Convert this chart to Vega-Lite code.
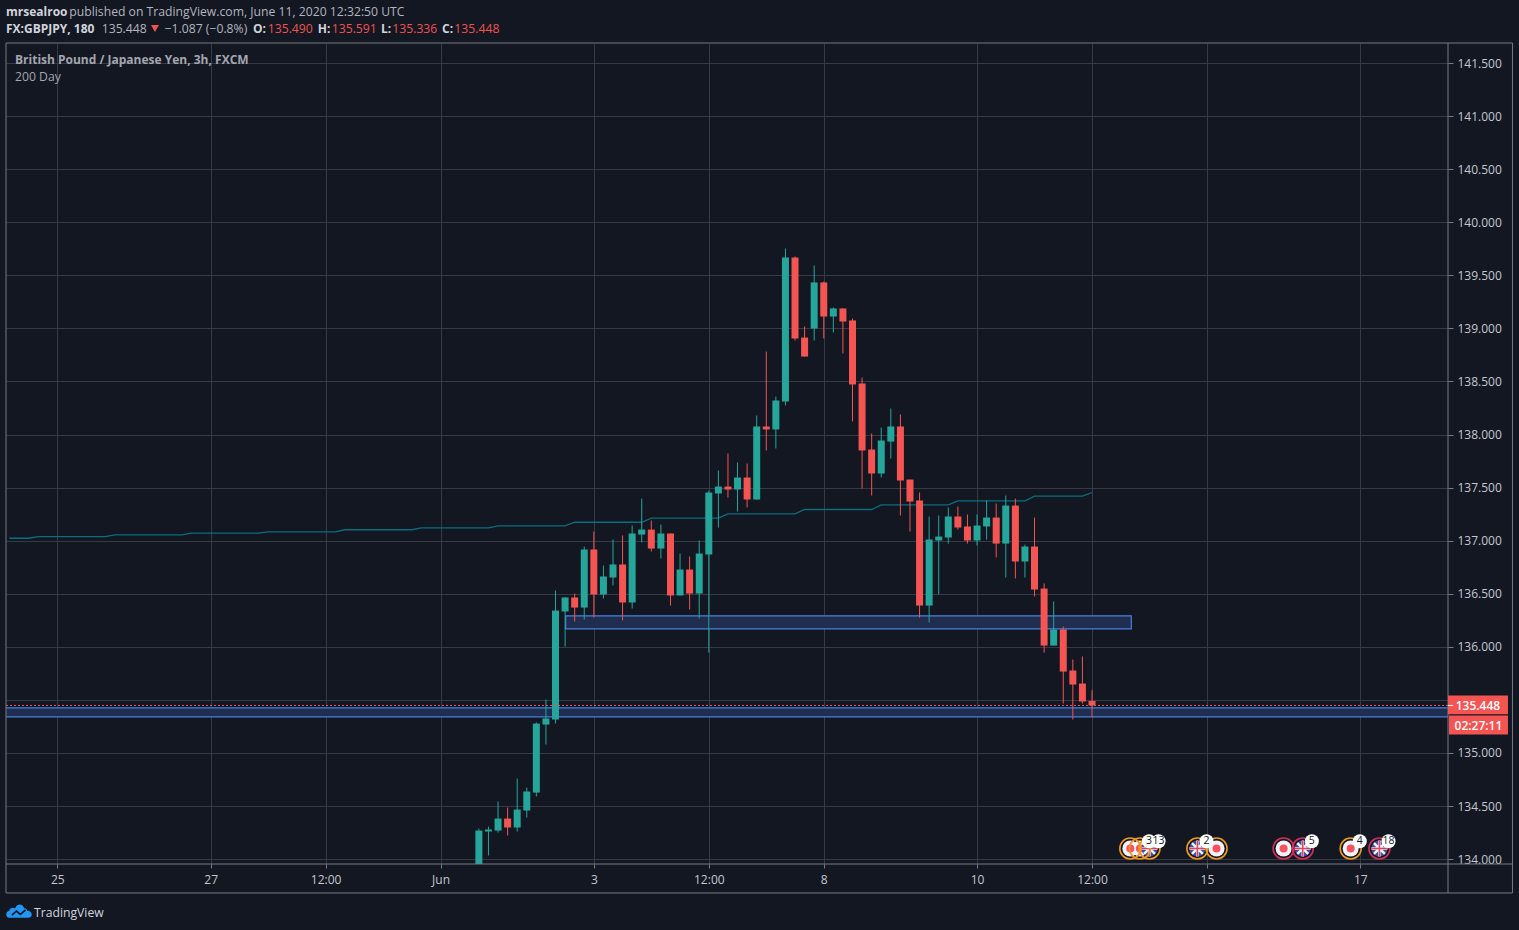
{
  "$schema": "https://vega.github.io/schema/vega-lite/v6.json",
  "width": 1442,
  "height": 821,
  "autosize": {"type": "none"},
  "padding": {"left": 6, "top": 43, "right": 71, "bottom": 66},
  "background": "#131722",
  "config": {
    "view": {"stroke": null},
    "font": "Open Sans",
    "axis": {"labelFont": "Open Sans", "labelFontSize": 12, "labelColor": "#c4c7ce", "gridColor": "#363a45", "gridWidth": 1, "tickColor": "#787b86", "domain": false}
  },
  "datasets": {
    "candles": [
      {"bar":-64,"open":133.7,"high":134.288,"low":133.6,"close":134.269,"dir":"up"},
      {"bar":-63,"open":134.26,"high":134.307,"low":134.034,"close":134.279,"dir":"up"},
      {"bar":-62,"open":134.269,"high":134.543,"low":134.25,"close":134.382,"dir":"up"},
      {"bar":-61,"open":134.382,"high":134.486,"low":134.222,"close":134.298,"dir":"down"},
      {"bar":-60,"open":134.298,"high":134.759,"low":134.26,"close":134.467,"dir":"up"},
      {"bar":-59,"open":134.458,"high":134.674,"low":134.392,"close":134.637,"dir":"up"},
      {"bar":-58,"open":134.627,"high":135.287,"low":134.59,"close":135.277,"dir":"up"},
      {"bar":-57,"open":135.268,"high":135.504,"low":135.08,"close":135.325,"dir":"up"},
      {"bar":-56,"open":135.315,"high":136.531,"low":135.277,"close":136.342,"dir":"up"},
      {"bar":-55,"open":136.333,"high":136.465,"low":136.003,"close":136.465,"dir":"up"},
      {"bar":-54,"open":136.465,"high":136.502,"low":136.239,"close":136.37,"dir":"down"},
      {"bar":-53,"open":136.37,"high":136.945,"low":136.257,"close":136.917,"dir":"up"},
      {"bar":-52,"open":136.917,"high":137.086,"low":136.276,"close":136.493,"dir":"down"},
      {"bar":-51,"open":136.493,"high":136.766,"low":136.455,"close":136.663,"dir":"up"},
      {"bar":-50,"open":136.653,"high":137.011,"low":136.578,"close":136.776,"dir":"up"},
      {"bar":-49,"open":136.776,"high":137.049,"low":136.248,"close":136.418,"dir":"down"},
      {"bar":-48,"open":136.418,"high":137.143,"low":136.361,"close":137.068,"dir":"up"},
      {"bar":-47,"open":137.058,"high":137.397,"low":136.983,"close":137.105,"dir":"up"},
      {"bar":-46,"open":137.105,"high":137.19,"low":136.898,"close":136.926,"dir":"down"},
      {"bar":-45,"open":136.926,"high":137.152,"low":136.832,"close":137.068,"dir":"up"},
      {"bar":-44,"open":137.068,"high":137.068,"low":136.389,"close":136.484,"dir":"down"},
      {"bar":-43,"open":136.484,"high":136.879,"low":136.484,"close":136.728,"dir":"up"},
      {"bar":-42,"open":136.728,"high":136.851,"low":136.352,"close":136.502,"dir":"down"},
      {"bar":-41,"open":136.502,"high":137.002,"low":136.267,"close":136.879,"dir":"up"},
      {"bar":-40,"open":136.87,"high":137.473,"low":135.946,"close":137.454,"dir":"up"},
      {"bar":-39,"open":137.445,"high":137.661,"low":137.124,"close":137.51,"dir":"up"},
      {"bar":-38,"open":137.51,"high":137.821,"low":137.407,"close":137.482,"dir":"down"},
      {"bar":-37,"open":137.482,"high":137.737,"low":137.275,"close":137.595,"dir":"up"},
      {"bar":-36,"open":137.595,"high":137.727,"low":137.313,"close":137.388,"dir":"down"},
      {"bar":-35,"open":137.388,"high":138.179,"low":137.388,"close":138.076,"dir":"up"},
      {"bar":-34,"open":138.076,"high":138.782,"low":137.85,"close":138.048,"dir":"down"},
      {"bar":-33,"open":138.048,"high":138.358,"low":137.869,"close":138.321,"dir":"up"},
      {"bar":-32,"open":138.311,"high":139.753,"low":138.274,"close":139.668,"dir":"up"},
      {"bar":-31,"open":139.668,"high":139.678,"low":138.886,"close":138.905,"dir":"down"},
      {"bar":-30,"open":138.914,"high":139.018,"low":138.735,"close":138.735,"dir":"down"},
      {"bar":-29,"open":138.999,"high":139.593,"low":138.886,"close":139.433,"dir":"up"},
      {"bar":-28,"open":139.433,"high":139.442,"low":138.905,"close":139.112,"dir":"down"},
      {"bar":-27,"open":139.112,"high":139.197,"low":138.961,"close":139.188,"dir":"up"},
      {"bar":-26,"open":139.188,"high":139.188,"low":138.764,"close":139.065,"dir":"down"},
      {"bar":-25,"open":139.075,"high":139.093,"low":138.123,"close":138.472,"dir":"down"},
      {"bar":-24,"open":138.481,"high":138.537,"low":137.492,"close":137.85,"dir":"down"},
      {"bar":-23,"open":137.859,"high":138.01,"low":137.426,"close":137.633,"dir":"down"},
      {"bar":-22,"open":137.633,"high":138.066,"low":137.595,"close":137.944,"dir":"up"},
      {"bar":-21,"open":137.934,"high":138.245,"low":137.774,"close":138.076,"dir":"up"},
      {"bar":-20,"open":138.076,"high":138.189,"low":137.237,"close":137.567,"dir":"down"},
      {"bar":-19,"open":137.576,"high":137.576,"low":137.086,"close":137.369,"dir":"down"},
      {"bar":-18,"open":137.379,"high":137.454,"low":136.276,"close":136.389,"dir":"down"},
      {"bar":-17,"open":136.389,"high":137.228,"low":136.229,"close":137.011,"dir":"up"},
      {"bar":-16,"open":137.002,"high":137.237,"low":136.493,"close":137.039,"dir":"up"},
      {"bar":-15,"open":137.03,"high":137.313,"low":136.973,"close":137.228,"dir":"up"},
      {"bar":-14,"open":137.228,"high":137.322,"low":137.105,"close":137.124,"dir":"down"},
      {"bar":-13,"open":137.134,"high":137.247,"low":136.973,"close":137.002,"dir":"down"},
      {"bar":-12,"open":137.002,"high":137.247,"low":136.955,"close":137.143,"dir":"up"},
      {"bar":-11,"open":137.134,"high":137.379,"low":137.011,"close":137.218,"dir":"up"},
      {"bar":-10,"open":137.218,"high":137.35,"low":136.842,"close":136.973,"dir":"down"},
      {"bar":-9,"open":136.973,"high":137.426,"low":136.653,"close":137.331,"dir":"up"},
      {"bar":-8,"open":137.331,"high":137.397,"low":136.644,"close":136.804,"dir":"down"},
      {"bar":-7,"open":136.804,"high":136.964,"low":136.653,"close":136.945,"dir":"up"},
      {"bar":-6,"open":136.945,"high":137.218,"low":136.474,"close":136.54,"dir":"down"},
      {"bar":-5,"open":136.549,"high":136.597,"low":135.946,"close":136.012,"dir":"down"},
      {"bar":-4,"open":136.012,"high":136.427,"low":136.012,"close":136.163,"dir":"up"},
      {"bar":-3,"open":136.163,"high":136.191,"low":135.466,"close":135.767,"dir":"down"},
      {"bar":-2,"open":135.777,"high":135.88,"low":135.315,"close":135.645,"dir":"down"},
      {"bar":-1,"open":135.654,"high":135.909,"low":135.466,"close":135.485,"dir":"down"},
      {"bar":0,"open":135.49,"high":135.591,"low":135.336,"close":135.448,"dir":"down"}
    ],
    "ma200": [
      {"bar":-113,"price":137.023},{"bar":-111,"price":137.023},{"bar":-110,"price":137.039},{"bar":-103,"price":137.039},
      {"bar":-102,"price":137.055},{"bar":-95,"price":137.055},{"bar":-94,"price":137.071},{"bar":-87,"price":137.071},
      {"bar":-86,"price":137.084},{"bar":-79,"price":137.084},{"bar":-78,"price":137.103},{"bar":-71,"price":137.103},
      {"bar":-70,"price":137.121},{"bar":-63,"price":137.121},{"bar":-62,"price":137.14},{"bar":-55,"price":137.14},
      {"bar":-54,"price":137.174},{"bar":-47,"price":137.174},{"bar":-46,"price":137.212},{"bar":-39,"price":137.212},
      {"bar":-38,"price":137.253},{"bar":-31,"price":137.253},{"bar":-30,"price":137.294},{"bar":-23,"price":137.294},
      {"bar":-22,"price":137.338},{"bar":-15,"price":137.338},{"bar":-14,"price":137.376},{"bar":-7,"price":137.376},
      {"bar":-6,"price":137.419},{"bar":-1,"price":137.419},{"bar":0,"price":137.454}
    ],
    "zones": [
      {"from":-54.94,"to":4.1,"top":136.292,"bottom":136.17},
      {"from":-116,"to":40,"top":135.425,"bottom":135.341}
    ],
    "frame": [{"from":-113.36,"to":43.89,"top":141.689,"bottom":133.681}],
    "hlines": [{"from":-113.36,"to":43.89,"price":133.954}],
    "vlines": [{"bar":37.16,"top":141.689,"bottom":133.681}],
    "lastPrice": [{"from":-113.36,"to":37.16,"price":135.448}],
    "lastTick": [{"from":37.16,"to":37.7,"price":135.448}],
    "priceBoxes": [
      {"from":37.16,"to":43.42,"top":135.541,"bottom":135.365},
      {"from":37.26,"to":43.42,"top":135.353,"bottom":135.174}
    ],
    "priceLabels": [
      {"bar":40.29,"price":135.453,"label":"135.448"},
      {"bar":40.34,"price":135.263,"label":"02:27:11"}
    ],
    "notes": [
      {"bar":-113.36,"price":141.986,"label":"mrsealroo","weight":"bold","tone":"bright"},
      {"bar":-106.75,"price":141.986,"label":"published on TradingView.com, June 11, 2020 12:32:50 UTC","weight":"plain","tone":"soft"},
      {"bar":-113.36,"price":141.826,"label":"FX:GBPJPY, 180","weight":"bold","tone":"bright"},
      {"bar":-103.37,"price":141.826,"label":"135.448","weight":"plain","tone":"soft"},
      {"bar":-96.8,"price":141.826,"label":"−1.087 (−0.8%)","weight":"plain","tone":"soft"},
      {"bar":-87.58,"price":141.826,"label":"O:","weight":"bold","tone":"bright"},
      {"bar":-86.04,"price":141.826,"label":"135.490","weight":"plain","tone":"alert"},
      {"bar":-80.82,"price":141.826,"label":"H:","weight":"bold","tone":"bright"},
      {"bar":-79.36,"price":141.826,"label":"135.591","weight":"plain","tone":"alert"},
      {"bar":-74.22,"price":141.826,"label":"L:","weight":"bold","tone":"bright"},
      {"bar":-73.04,"price":141.826,"label":"135.336","weight":"plain","tone":"alert"},
      {"bar":-67.85,"price":141.826,"label":"C:","weight":"bold","tone":"bright"},
      {"bar":-66.56,"price":141.826,"label":"135.448","weight":"plain","tone":"alert"},
      {"bar":-112.42,"price":141.534,"label":"British Pound / Japanese Yen, 3h, FXCM","weight":"bold","tone":"dim"},
      {"bar":-112.42,"price":141.374,"label":"200 Day","weight":"plain","tone":"dim"},
      {"bar":-110.44,"price":133.506,"label":"TradingView","weight":"plain","tone":"bright"}
    ],
    "arrow": [{"bar":-97.81,"price":141.826}],
    "logo": [{"bar":-112,"price":133.516}],
    "events": [
      {"bar":30,"price":134.1,"country":"UK","impact":"high"},
      {"bar":27,"price":134.1,"country":"JP","impact":"medium"},
      {"bar":22,"price":134.1,"country":"UK","impact":"high"},
      {"bar":20,"price":134.1,"country":"JP","impact":"high"},
      {"bar":13,"price":134.1,"country":"JP","impact":"medium"},
      {"bar":11,"price":134.1,"country":"UK","impact":"medium"},
      {"bar":6,"price":134.1,"country":"UK","impact":"medium"},
      {"bar":5,"price":134.1,"country":"JP","impact":"medium"},
      {"bar":4,"price":134.1,"country":"JP","impact":"medium"}
    ],
    "badges": [
      {"bar":5.95,"price":134.168,"label":"3"},
      {"bar":6.95,"price":134.168,"label":"13"},
      {"bar":11.95,"price":134.168,"label":"2"},
      {"bar":22.95,"price":134.168,"label":"5"},
      {"bar":27.95,"price":134.168,"label":"4"},
      {"bar":30.95,"price":134.168,"label":"18"}
    ]
  },
  "layer": [
    {
      "data": {"name": "zones"},
      "mark": {"type": "rect", "fill": "#1f2d4f", "stroke": "#4a80e0", "strokeWidth": 1.2, "clip": true},
      "encoding": {
        "x": {
          "field": "from", "type": "quantitative",
          "scale": {"domain": [-113.36, 37.16], "nice": false, "zero": false, "padding": 0},
          "axis": {
            "title": null, "orient": "bottom", "values": [-108, -92, -80, -68, -52, -40, -28, -12, 0, 12, 28],
            "tickSize": 4, "labelPadding": 6, "labelOverlap": false, "labelBound": false, "labelFlush": false,
            "labelExpr": "{'-108':'25','-92':'27','-80':'12:00','-68':'Jun','-52':'3','-40':'12:00','-28':'8','-12':'10','0':'12:00','12':'15','28':'17'}[datum.value]"
          }
        },
        "x2": {"field": "to"},
        "y": {
          "field": "top", "type": "quantitative",
          "scale": {"domain": [133.954, 141.689], "nice": false, "zero": false, "padding": 0},
          "axis": {
            "title": null, "orient": "right", "values": [134, 134.5, 135, 135.5, 136, 136.5, 137, 137.5, 138, 138.5, 139, 139.5, 140, 140.5, 141, 141.5],
            "labelExpr": "datum.value === 135.5 ? '' : format(datum.value, '.3f')",
            "tickSize": 5, "labelPadding": 4, "labelOverlap": false, "labelBound": false, "labelFlush": false
          }
        },
        "y2": {"field": "bottom"}
      }
    },
    {
      "data": {"name": "ma200"},
      "mark": {"type": "line", "color": "#0a6e80", "strokeWidth": 1.3, "clip": true},
      "encoding": {
        "x": {"field": "bar", "type": "quantitative"},
        "y": {"field": "price", "type": "quantitative"}
      }
    },
    {
      "data": {"name": "candles"},
      "mark": {"type": "rule", "strokeWidth": 1, "clip": true},
      "encoding": {
        "x": {"field": "bar", "type": "quantitative"},
        "y": {"field": "low", "type": "quantitative"},
        "y2": {"field": "high"},
        "color": {"field": "dir", "type": "nominal", "legend": null, "scale": {"domain": ["up", "down"], "range": ["#26a69a", "#f45452"]}}
      }
    },
    {
      "data": {"name": "candles"},
      "mark": {"type": "bar", "size": 7, "orient": "vertical", "clip": true},
      "encoding": {
        "x": {"field": "bar", "type": "quantitative"},
        "y": {"field": "open", "type": "quantitative"},
        "y2": {"field": "close"},
        "color": {"field": "dir", "type": "nominal", "legend": null}
      }
    },
    {
      "data": {"name": "lastPrice"},
      "mark": {"type": "rule", "color": "#f45452", "strokeWidth": 1, "strokeDash": [2, 2]},
      "encoding": {
        "x": {"field": "from", "type": "quantitative"},
        "x2": {"field": "to"},
        "y": {"field": "price", "type": "quantitative"}
      }
    },
    {
      "data": {"name": "events"},
      "mark": {"type": "point", "filled": true, "shape": "circle", "size": 441, "color": "#131722", "opacity": 1},
      "encoding": {
        "x": {"field": "bar", "type": "quantitative"},
        "y": {"field": "price", "type": "quantitative"}
      }
    },
    {
      "data": {"name": "events"},
      "transform": [{"filter": "datum.country === 'JP'"}],
      "mark": {"type": "point", "filled": true, "shape": "circle", "size": 256, "color": "#f0f3fa", "opacity": 1},
      "encoding": {
        "x": {"field": "bar", "type": "quantitative"},
        "y": {"field": "price", "type": "quantitative"}
      }
    },
    {
      "data": {"name": "events"},
      "transform": [{"filter": "datum.country === 'JP'"}],
      "mark": {"type": "point", "filled": true, "shape": "circle", "size": 64, "color": "#f7525f", "opacity": 1},
      "encoding": {
        "x": {"field": "bar", "type": "quantitative"},
        "y": {"field": "price", "type": "quantitative"}
      }
    },
    {
      "data": {"name": "events"},
      "transform": [{"filter": "datum.country === 'UK'"}],
      "mark": {"type": "point", "filled": true, "shape": "circle", "size": 256, "color": "#3f51a0", "opacity": 1},
      "encoding": {
        "x": {"field": "bar", "type": "quantitative"},
        "y": {"field": "price", "type": "quantitative"}
      }
    },
    {
      "data": {"name": "events"},
      "transform": [{"filter": "datum.country === 'UK'"}],
      "mark": {"type": "point", "filled": false, "shape": "M-0.68,-0.68L0.68,0.68M-0.68,0.68L0.68,-0.68M-1,0L1,0M0,-1L0,1", "size": 256, "stroke": "#f0f3fa", "strokeWidth": 2.5, "opacity": 1},
      "encoding": {
        "x": {"field": "bar", "type": "quantitative"},
        "y": {"field": "price", "type": "quantitative"}
      }
    },
    {
      "data": {"name": "events"},
      "transform": [{"filter": "datum.country === 'UK'"}],
      "mark": {"type": "point", "filled": false, "shape": "M-1,0L1,0M0,-1L0,1", "size": 256, "stroke": "#e0455a", "strokeWidth": 1.5, "opacity": 1},
      "encoding": {
        "x": {"field": "bar", "type": "quantitative"},
        "y": {"field": "price", "type": "quantitative"}
      }
    },
    {
      "data": {"name": "events"},
      "mark": {"type": "point", "filled": false, "shape": "circle", "size": 441, "strokeWidth": 1.6, "opacity": 1},
      "encoding": {
        "x": {"field": "bar", "type": "quantitative"},
        "y": {"field": "price", "type": "quantitative"},
        "stroke": {"field": "impact", "type": "nominal", "legend": null, "scale": {"domain": ["medium", "high"], "range": ["#ee9722", "#d22f57"]}}
      }
    },
    {
      "data": {"name": "badges"},
      "mark": {"type": "point", "filled": true, "shape": "circle", "size": 196, "color": "#ffffff", "opacity": 1},
      "encoding": {
        "x": {"field": "bar", "type": "quantitative"},
        "y": {"field": "price", "type": "quantitative"}
      }
    },
    {
      "data": {"name": "badges"},
      "mark": {"type": "text", "fontSize": 10.5, "color": "#131722", "align": "center", "baseline": "middle"},
      "encoding": {
        "x": {"field": "bar", "type": "quantitative"},
        "y": {"field": "price", "type": "quantitative"},
        "text": {"field": "label"}
      }
    },
    {
      "data": {"name": "frame"},
      "mark": {"type": "rect", "fillOpacity": 0, "stroke": "#787b86", "strokeWidth": 1},
      "encoding": {
        "x": {"field": "from", "type": "quantitative"},
        "x2": {"field": "to"},
        "y": {"field": "top", "type": "quantitative"},
        "y2": {"field": "bottom"}
      }
    },
    {
      "data": {"name": "hlines"},
      "mark": {"type": "rule", "color": "#787b86", "strokeWidth": 1},
      "encoding": {
        "x": {"field": "from", "type": "quantitative"},
        "x2": {"field": "to"},
        "y": {"field": "price", "type": "quantitative"}
      }
    },
    {
      "data": {"name": "vlines"},
      "mark": {"type": "rule", "color": "#787b86", "strokeWidth": 1},
      "encoding": {
        "x": {"field": "bar", "type": "quantitative"},
        "y": {"field": "top", "type": "quantitative"},
        "y2": {"field": "bottom"}
      }
    },
    {
      "data": {"name": "priceBoxes"},
      "mark": {"type": "rect", "fill": "#f45452"},
      "encoding": {
        "x": {"field": "from", "type": "quantitative"},
        "x2": {"field": "to"},
        "y": {"field": "top", "type": "quantitative"},
        "y2": {"field": "bottom"}
      }
    },
    {
      "data": {"name": "lastTick"},
      "mark": {"type": "rule", "color": "#ffffff", "strokeWidth": 1},
      "encoding": {
        "x": {"field": "from", "type": "quantitative"},
        "x2": {"field": "to"},
        "y": {"field": "price", "type": "quantitative"}
      }
    },
    {
      "data": {"name": "priceLabels"},
      "mark": {"type": "text", "fontSize": 12, "fontWeight": 600, "color": "#ffffff", "align": "center", "baseline": "middle", "dy": 1},
      "encoding": {
        "x": {"field": "bar", "type": "quantitative"},
        "y": {"field": "price", "type": "quantitative"},
        "text": {"field": "label"}
      }
    },
    {
      "data": {"name": "notes"},
      "transform": [{"filter": "datum.weight === 'bold'"}],
      "mark": {"type": "text", "fontSize": 12, "fontWeight": "bold", "align": "left", "baseline": "middle", "dy": 1},
      "encoding": {
        "x": {"field": "bar", "type": "quantitative"},
        "y": {"field": "price", "type": "quantitative"},
        "text": {"field": "label"},
        "fill": {"field": "tone", "type": "nominal", "legend": null, "scale": {"domain": ["bright", "soft", "alert", "dim"], "range": ["#d1d4dc", "#b2b5be", "#ef5350", "#a3a6af"]}}
      }
    },
    {
      "data": {"name": "notes"},
      "transform": [{"filter": "datum.weight === 'plain'"}],
      "mark": {"type": "text", "fontSize": 12.2, "align": "left", "baseline": "middle", "dy": 1},
      "encoding": {
        "x": {"field": "bar", "type": "quantitative"},
        "y": {"field": "price", "type": "quantitative"},
        "text": {"field": "label"},
        "fill": {"field": "tone", "type": "nominal", "legend": null}
      }
    },
    {
      "data": {"name": "arrow"},
      "mark": {"type": "point", "filled": true, "shape": "triangle-down", "size": 64, "color": "#ef5350", "opacity": 1},
      "encoding": {
        "x": {"field": "bar", "type": "quantitative"},
        "y": {"field": "price", "type": "quantitative"}
      }
    },
    {
      "data": {"name": "logo"},
      "mark": {"type": "point", "filled": true, "shape": "M-0.8,0.55C-1.05,0.55,-1.05,0.05,-0.75,0.02C-0.7,-0.25,-0.4,-0.25,-0.3,-0.15C-0.2,-0.55,0.3,-0.6,0.4,-0.15C0.5,-0.2,0.6,-0.1,0.62,0.02C1.05,0,1.1,0.55,0.75,0.55Z", "size": 676, "color": "#2196f3", "opacity": 1},
      "encoding": {
        "x": {"field": "bar", "type": "quantitative"},
        "y": {"field": "price", "type": "quantitative"}
      }
    },
    {
      "data": {"name": "logo"},
      "mark": {"type": "point", "filled": false, "shape": "M-0.55,0.35L-0.2,0.05L0.1,0.3L0.5,-0.05", "size": 676, "stroke": "#131722", "strokeWidth": 1.6, "opacity": 1},
      "encoding": {
        "x": {"field": "bar", "type": "quantitative"},
        "y": {"field": "price", "type": "quantitative"}
      }
    }
  ]
}
